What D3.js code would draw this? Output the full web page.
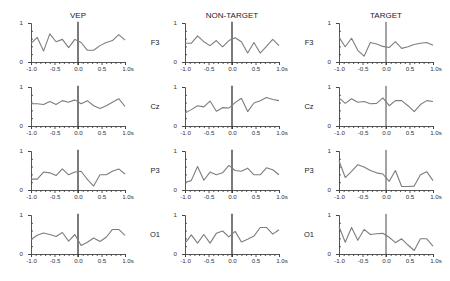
<!DOCTYPE html>
<html>
<head>
<meta charset="utf-8">
<script src="https://cdn.jsdelivr.net/npm/d3@7"></script>
<style>
  body { margin: 0; background: #fff; }
  svg { display: block; }
  text { font-family: "Liberation Sans", Arial, sans-serif; }
</style>
</head>
<body>
<div id="chart"></div>
<script>
// conditions (columns) and electrodes (rows)
const conditions = ['VEP', 'NON-TARGET', 'TARGET'];
const electrodes = ['F3', 'Cz', 'P3', 'O1'];

// sample times (s)
const times = [-1, -0.867, -0.733, -0.6, -0.467, -0.333, -0.2, -0.067,
               0.067, 0.2, 0.333, 0.467, 0.6, 0.733, 0.867, 1];

const vepF3       = [0.48, 0.63, 0.28, 0.72, 0.52, 0.58, 0.37, 0.58, 0.50, 0.30, 0.30, 0.42, 0.50, 0.55, 0.70, 0.56];
const nonTargetF3 = [0.48, 0.48, 0.67, 0.52, 0.42, 0.55, 0.39, 0.55, 0.62, 0.52, 0.23, 0.50, 0.23, 0.40, 0.58, 0.42];
const targetF3    = [0.63, 0.39, 0.61, 0.30, 0.15, 0.50, 0.46, 0.40, 0.37, 0.52, 0.35, 0.39, 0.45, 0.48, 0.50, 0.43];

const vepCz       = [0.57, 0.57, 0.55, 0.63, 0.55, 0.65, 0.61, 0.67, 0.57, 0.65, 0.52, 0.45, 0.52, 0.61, 0.70, 0.50];
const nonTargetCz = [0.33, 0.42, 0.52, 0.49, 0.64, 0.38, 0.47, 0.46, 0.60, 0.71, 0.37, 0.59, 0.65, 0.73, 0.68, 0.65];
const targetCz    = [0.72, 0.58, 0.70, 0.61, 0.63, 0.57, 0.58, 0.72, 0.52, 0.65, 0.65, 0.52, 0.37, 0.55, 0.65, 0.63];

const vepP3       = [0.28, 0.28, 0.46, 0.44, 0.37, 0.54, 0.39, 0.46, 0.48, 0.27, 0.10, 0.39, 0.39, 0.48, 0.54, 0.41];
const nonTargetP3 = [0.19, 0.24, 0.60, 0.25, 0.46, 0.39, 0.44, 0.63, 0.50, 0.48, 0.56, 0.39, 0.39, 0.57, 0.52, 0.39];
const targetP3    = [0.75, 0.32, 0.48, 0.65, 0.59, 0.50, 0.44, 0.41, 0.22, 0.50, 0.09, 0.09, 0.10, 0.39, 0.47, 0.24];

const vepO1       = [0.37, 0.48, 0.54, 0.50, 0.45, 0.55, 0.33, 0.50, 0.22, 0.30, 0.41, 0.32, 0.43, 0.63, 0.63, 0.48];
const nonTargetO1 = [0.27, 0.49, 0.28, 0.50, 0.28, 0.53, 0.59, 0.44, 0.58, 0.31, 0.38, 0.46, 0.68, 0.68, 0.51, 0.62];
const targetO1    = [0.70, 0.30, 0.68, 0.35, 0.63, 0.50, 0.52, 0.53, 0.43, 0.29, 0.39, 0.23, 0.09, 0.39, 0.39, 0.20];

const seriesByRow = [
    [vepF3, nonTargetF3, targetF3],
    [vepCz, nonTargetCz, targetCz],
    [vepP3, nonTargetP3, targetP3],
    [vepO1, nonTargetO1, targetO1]
];

// ticks
const xMajor = [-1, -0.5, 0, 0.5, 1];
const xMinor = [-0.9, -0.8, -0.7, -0.6, -0.4, -0.3, -0.2, -0.1, 0.1, 0.2, 0.3, 0.4, 0.6, 0.7, 0.8, 0.9];
const yMajor = [0, 1];
const yMinor = [0.2, 0.4, 0.6, 0.8];

// layout
const width = 450, height = 281;
const panelW = 94, panelH = 39;
const colX = c => 31 + c * 154;
const rowY = r => 23 + r * 64;

const svg = d3.select('#chart')
    .append('svg')
    .attr('width', width)
    .attr('height', height);

const x = d3.scaleLinear().domain([-1, 1]).range([0, panelW]);
const y = d3.scaleLinear().domain([0, 1]).range([panelH, 0]);

const line = d3.line()
    .x((d, i) => x(times[i]))
    .y(d => y(d));

seriesByRow.forEach((row, r) => {
    row.forEach((values, c) => {
        const g = svg.append('g')
            .attr('transform', 'translate(' + colX(c) + ',' + rowY(r) + ')');

        // minor x ticks
        g.append('g')
            .attr('transform', 'translate(0,' + panelH + ')')
            .call(d3.axisBottom(x).tickValues(xMinor).tickSize(2).tickFormat(''))
            .call(a => a.select('.domain').remove());

        // major x ticks + labels
        const xa = g.append('g')
            .attr('transform', 'translate(0,' + panelH + ')')
            .call(d3.axisBottom(x).tickValues(xMajor).tickSize(3).tickPadding(2)
                .tickFormat(d => d === 1 ? '1.0s' : d.toFixed(1)));
        xa.selectAll('text').filter(d => d === 1).attr('dx', '2.5');

        // y axis
        g.append('g')
            .call(d3.axisRight(y).tickValues(yMinor).tickSize(2).tickFormat(''))
            .call(a => a.select('.domain').remove());
        g.append('g')
            .call(d3.axisLeft(y).tickValues(yMajor).tickSize(3).tickPadding(5).tickFormat(d3.format('d')));

        g.selectAll('.domain, .tick line')
            .attr('stroke', '#444')
            .attr('stroke-width', 0.9);
        g.selectAll('.tick text')
            .attr('fill', '#333')
            .style('font-size', '6.2px');

        // stimulus onset
        g.append('line')
            .attr('x1', x(0)).attr('x2', x(0))
            .attr('y1', y(1.03)).attr('y2', panelH + 3)
            .attr('stroke', '#333')
            .attr('stroke-width', c === 2 ? 0.9 : 1.3);

        g.append('path')
            .datum(values)
            .attr('fill', 'none')
            .attr('stroke', '#7d7d7d')
            .attr('stroke-width', 1.1)
            .attr('stroke-linejoin', 'round')
            .attr('d', line);

        if (r === 0) {
            g.append('text')
                .attr('x', x(0))
                .attr('y', -5)
                .attr('text-anchor', 'middle')
                .attr('fill', '#222')
                .style('font-size', '8px')
                .text(conditions[c]);
        }

        // electrode label sits in the gap left of columns 2 and 3
        if (c > 0) {
            g.append('text')
                .attr('x', (colX(c - 1) + panelW + colX(c)) / 2 - colX(c))
                .attr('y', panelH / 2 + 2.5)
                .attr('text-anchor', 'middle')
                .attr('fill', '#222')
                .style('font-size', '7.5px')
                .text(electrodes[r]);
        }
    });
});
</script>
</body>
</html>
